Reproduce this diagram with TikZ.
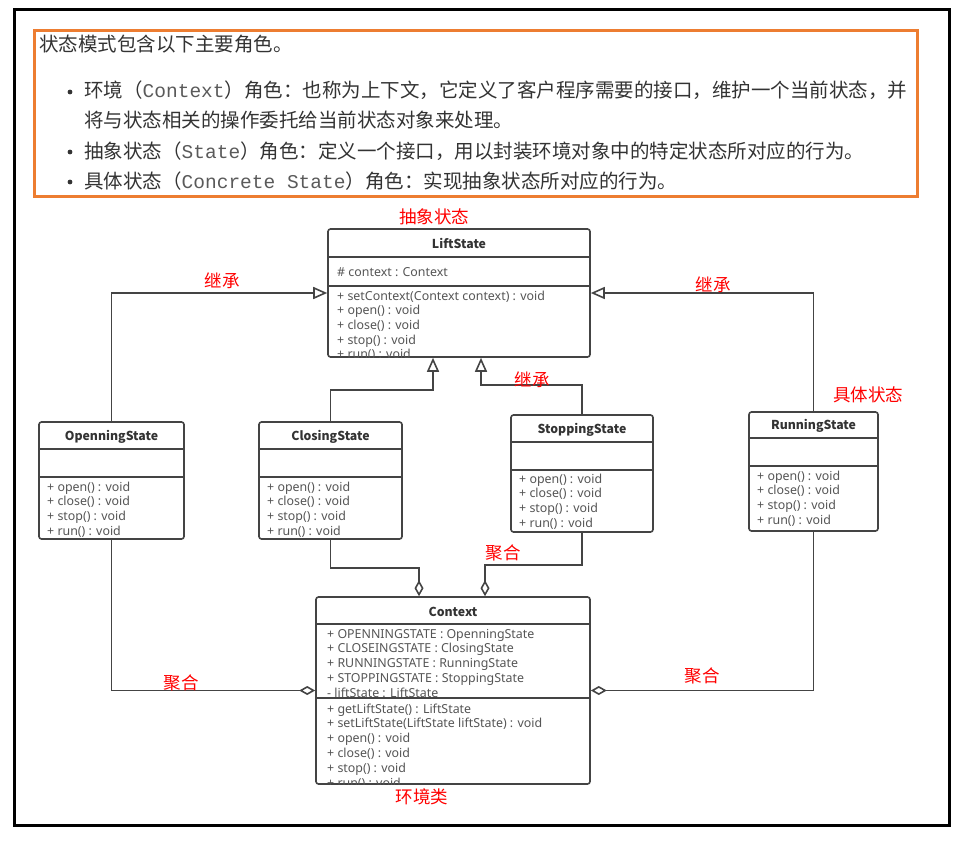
\documentclass[tikz,border=0pt]{standalone}
\usepackage{fontspec}
\setmainfont{Noto Sans CJK SC}
\newfontfamily\codefont{Liberation Mono}
\newfontfamily\umlfont{Noto Sans}
\usetikzlibrary{arrows.meta}
\definecolor{umlgray}{HTML}{444444}
\definecolor{textgray}{HTML}{333333}
\definecolor{membergray}{HTML}{555555}
\definecolor{codegray}{HTML}{5A5A5A}
\definecolor{noteorange}{HTML}{ED7D31}
\tikzset{
	classbox/.style={draw=umlgray, line width=1.6pt, rounded corners=2.5pt, inner sep=0pt},
	classname/.style={font=\fontsize{12.3}{14}\selectfont\bfseries, text=textgray, inner sep=0pt},
	member/.style={anchor=base west, inner sep=0pt, font=\umlfont\fontsize{12.4}{14}\selectfont, text=membergray},
	sep/.style={draw=umlgray, line width=1.6pt},
	note/.style={text=red, font=\fontsize{17.5}{20}\selectfont, inner sep=0pt},
	intro/.style={anchor=base west, inner sep=0pt, text=textgray, font=\fontsize{19.5}{24}\selectfont},
	inherit/.style={draw=umlgray, line width=1.6pt, -{Triangle[open, length=14pt, width=12pt, fill=white]}},
	aggr/.style={draw=umlgray, line width=1.6pt, -{Diamond[open, length=16pt, width=9pt, fill=white]}},
}
\newcommand{\code}[1]{{\codefont\color{codegray}#1}}
\begin{document}
\begin{tikzpicture}[x=1pt, y=-1pt]
	\useasboundingbox (0, 0) rectangle (973, 842);
	\draw[line width=3pt] (14.5, 10) rectangle (949.5, 825.5);
	\draw[noteorange, line width=3pt] (34.5, 30.5) rectangle (917, 196.5);

	% text on top
	\node[intro] (roles) at (39, 52) {状态模式包含以下主要角色。};
	\fill[textgray] (70, 92) circle (2.4);
	\fill[textgray] (70, 152) circle (2.4);
	\fill[textgray] (70, 182) circle (2.4);
	\node[intro] (ctxline) at (84, 98) {环境（\code{Context}）角色：也称为上下文，它定义了客户程序需要的接口，维护一个当前状态，并};
	\node[intro] (ctxline2) at (84, 128) {将与状态相关的操作委托给当前状态对象来处理。};
	\node[intro] (stateline) at (84, 159) {抽象状态（\code{State}）角色：定义一个接口，用以封装环境对象中的特定状态所对应的行为。};
	\node[intro] (concline) at (84, 189) {具体状态（\code{Concrete State}）角色：实现抽象状态所对应的行为。};

	% classes
	\node[classbox, minimum width=262, minimum height=128] (lift) at (459, 293) {};
	\node[classbox, minimum width=145, minimum height=117] (open) at (111.5, 480.5) {};
	\node[classbox, minimum width=143, minimum height=117] (close) at (330.5, 480.5) {};
	\node[classbox, minimum width=142, minimum height=117] (stop) at (582, 473.5) {};
	\node[classbox, minimum width=129, minimum height=119] (run) at (813.5, 471.5) {};
	\node[classbox, minimum width=274, minimum height=187] (ctx) at (453, 690.5) {};

	\draw[sep] ([yshift=-28.5pt]lift.north west) -- ([yshift=-28.5pt]lift.north east);
	\draw[sep] ([yshift=-58pt]lift.north west) -- ([yshift=-58pt]lift.north east);
	\draw[sep] ([yshift=-28pt]open.north west) -- ([yshift=-28pt]open.north east);
	\draw[sep] ([yshift=-56pt]open.north west) -- ([yshift=-56pt]open.north east);
	\draw[sep] ([yshift=-28pt]close.north west) -- ([yshift=-28pt]close.north east);
	\draw[sep] ([yshift=-56pt]close.north west) -- ([yshift=-56pt]close.north east);
	\draw[sep] ([yshift=-28pt]stop.north west) -- ([yshift=-28pt]stop.north east);
	\draw[sep] ([yshift=-56pt]stop.north west) -- ([yshift=-56pt]stop.north east);
	\draw[sep] ([yshift=-27pt]run.north west) -- ([yshift=-27pt]run.north east);
	\draw[sep] ([yshift=-55pt]run.north west) -- ([yshift=-55pt]run.north east);
	\draw[sep] ([yshift=-28pt]ctx.north west) -- ([yshift=-28pt]ctx.north east);
	\draw[sep] ([yshift=-102pt]ctx.north west) -- ([yshift=-102pt]ctx.north east);

	\node[classname] (lift-name) at ([yshift=-15pt]lift.north) {LiftState};
	\node[classname] (open-name) at ([yshift=-15.5pt]open.north) {OpenningState};
	\node[classname] (close-name) at ([yshift=-15.5pt]close.north) {ClosingState};
	\node[classname] (stop-name) at ([yshift=-15.5pt]stop.north) {StoppingState};
	\node[classname] (run-name) at ([yshift=-14.5pt]run.north) {RunningState};
	\node[classname] (ctx-name) at ([yshift=-16pt]ctx.north) {Context};

	% members
	\node[member] (lift-a1) at (337, 276) {\# context : Context};
	\begin{scope}
	\clip (328, 287) rectangle (590, 357);
	\foreach \txt [count=\i] in {+ setContext(Context context) : void, + open() : void, + close() : void, + stop() : void, + run() : void}
		\node[member] (lift-m\i) at (337, 285.3+14.7*\i) {\txt};
	\end{scope}
	\foreach \txt [count=\i] in {+ open() : void, + close() : void, + stop() : void, + run() : void} {
		\node[member] (open-m\i) at (47, 476.3+14.7*\i) {\txt};
		\node[member] (close-m\i) at (267, 476.3+14.7*\i) {\txt};
		\node[member] (stop-m\i) at (519, 468.3+14.7*\i) {\txt};
		\node[member] (run-m\i) at (757, 465.3+14.7*\i) {\txt};
	}
	\begin{scope}
	\clip (316, 625) rectangle (590, 699);
	\foreach \txt [count=\i] in {+ OPENNINGSTATE : OpenningState, + CLOSEINGSTATE : ClosingState, + RUNNINGSTATE : RunningState, + STOPPINGSTATE : StoppingState, - liftState : LiftState}
		\node[member] (ctx-a\i) at (327, 623.1+14.9*\i) {\txt};
	\end{scope}
	\begin{scope}
	\clip (316, 699) rectangle (590, 784);
	\foreach \txt [count=\i] in {+ getLiftState() : LiftState, + setLiftState(LiftState liftState) : void, + open() : void, + close() : void, + stop() : void, + run() : void}
		\node[member] (ctx-m\i) at (327, 698.2+14.85*\i) {\txt};
	\end{scope}

	% inheritance
	\coordinate (closeup) at (433, 390);
	\coordinate (stopup) at (481, 385);
	\draw[inherit] (open.north) |- (lift.west);
	\draw[inherit] (run.north) |- (lift.east);
	\draw[inherit] (close.north) |- (closeup) -- (closeup |- lift.south);
	\draw[inherit] (stop.north) |- (stopup) -- (stopup |- lift.south);

	% aggregation
	\coordinate (closedown) at (419, 568);
	\coordinate (stopdown) at (485, 565);
	\draw[aggr] (open.south) |- (ctx.west);
	\draw[aggr] (run.south) |- (ctx.east);
	\draw[aggr] (close.south) |- (closedown) -- (closedown |- ctx.north);
	\draw[aggr] (stop.south) |- (stopdown) -- (stopdown |- ctx.north);

	% notes
	\node[note] (abstract) at (434, 217) {抽象状态};
	\node[note] (inh-left) at (222, 281) {继承};
	\node[note] (inh-right) at (713, 285) {继承};
	\node[note] (inh-mid) at (532, 380) {继承};
	\node[note] (concrete) at (868, 395) {具体状态};
	\node[note] (agg-mid) at (503, 553) {聚合};
	\node[note] (agg-left) at (181, 683) {聚合};
	\node[note] (agg-right) at (702, 676) {聚合};
	\node[note] (envclass) at (422, 797) {环境类};
\end{tikzpicture}
\end{document}
